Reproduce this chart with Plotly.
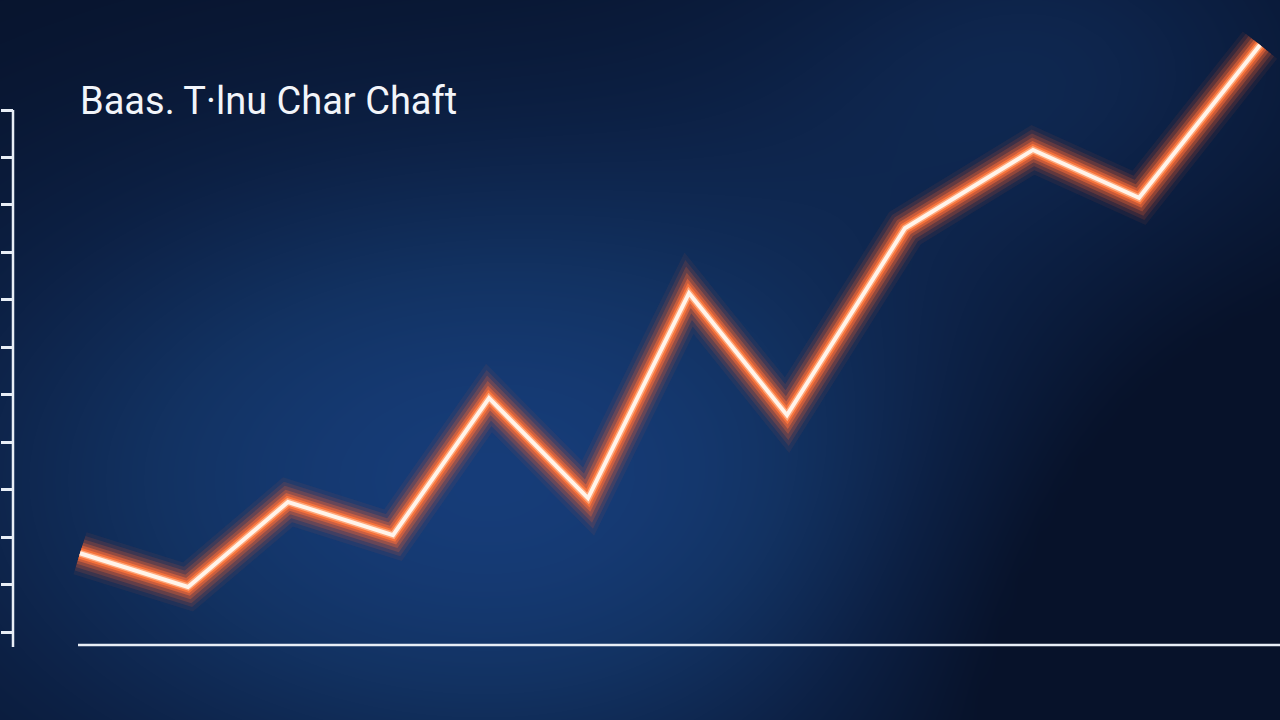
import numpy as np
import plotly.graph_objects as go

# ---- data ----
x_vals = [0.0, 1.08, 2.08, 3.13, 4.09, 5.08, 6.09, 7.07, 8.25, 9.53, 10.59, 11.80]
y_vals = [1.66, 0.95, 2.74, 2.04, 4.93, 2.82, 7.14, 4.57, 8.51, 10.16, 9.15, 12.37]
tick_vals = list(range(12))
title_text = "Baas. T\u00b7lnu Char Chaft"

W, H = 1280, 720

fig = go.Figure()

# ---- background gradient (styling only), on the first subplot so it sits underneath ----
gx = np.linspace(0, W, 65)
gy = np.linspace(0, H, 37)
GX, GY = np.meshgrid(gx, gy)
glow = np.exp(-(((GX - 500) / 560) ** 2 + ((GY - 480) / 340) ** 2))
glow2 = 0.4 * np.exp(-(((GX - 1050) / 300) ** 2 + ((GY - 60) / 200) ** 2))
dark_br = np.exp(-(((GX - 1250) / 360) ** 2 + ((GY - 620) / 280) ** 2))
z = np.clip(glow + glow2 - 0.6 * dark_br, 0, 1.2)
fig.add_trace(go.Heatmap(
    x=gx, y=gy, z=z, xaxis="x", yaxis="y", zsmooth="best",
    colorscale=[[0, "#07122a"], [0.35, "#0c2044"], [0.7, "#123262"], [1, "#163c78"]],
    showscale=False, hoverinfo="skip",
))

# ---- glowing line ----
glow_layers = [
    (44, "rgba(255,95,40,0.07)"),
    (36, "rgba(255,95,40,0.13)"),
    (29, "rgba(255,100,45,0.2)"),
    (22, "rgba(255,105,50,0.3)"),
    (16, "rgba(255,110,55,0.5)"),
    (11, "rgba(255,120,60,0.8)"),
    (7, "rgba(255,170,125,0.95)"),
    (4, "#fff4ea"),
]
for w, c in glow_layers:
    fig.add_trace(go.Scatter(
        x=x_vals, y=y_vals, mode="lines", xaxis="x2", yaxis="y2",
        line=dict(color=c, width=w, shape="linear"),
        hoverinfo="skip", showlegend=False,
    ))

# ---- layout ----
x_unit = 100.0
x_range = [(0 - 80) / x_unit, (W - 80) / x_unit]

tick0_px, tick_step = 632, 47.45
y_range = [(tick0_px - H) / tick_step, (tick0_px - 0) / tick_step]

axis_color = "#e8eef6"
fig.update_layout(
    width=W, height=H,
    margin=dict(l=0, r=0, t=0, b=0),
    paper_bgcolor="#0b1a33",
    plot_bgcolor="rgba(0,0,0,0)",
    showlegend=False,
    xaxis=dict(domain=[0, 1], range=[0, W], visible=False),
    yaxis=dict(domain=[0, 1], range=[H, 0], visible=False),
    xaxis2=dict(
        domain=[0, 1], range=x_range, anchor="y2",
        showgrid=False, zeroline=False, showticklabels=False, ticks="",
        showline=False,
    ),
    yaxis2=dict(
        domain=[0, 1], range=y_range,
        anchor="free", position=13 / W,
        showgrid=False, zeroline=False, showticklabels=False,
        tickmode="array", tickvals=tick_vals, ticks="outside",
        ticklen=12, tickwidth=2.5, tickcolor=axis_color,
        showline=False,
    ),
    shapes=[
        dict(type="line", xref="paper", yref="paper",
             x0=13 / W, x1=13 / W, y0=(H - 647) / H, y1=(H - 110) / H,
             line=dict(color=axis_color, width=2.5)),
        dict(type="line", xref="paper", yref="paper",
             x0=78 / W, x1=1, y0=(H - 645) / H, y1=(H - 645) / H,
             line=dict(color=axis_color, width=2.5)),
    ],
    annotations=[
        dict(text=title_text, xref="paper", yref="paper",
             x=78 / W, y=(H - 101) / H, xanchor="left", yanchor="middle",
             showarrow=False,
             font=dict(family="Roboto, Liberation Sans, sans-serif", size=38, color="#f2f5fa")),
    ],
)

fig.write_html(
    "out.html",
    config={"displayModeBar": False},
    post_script="document.body.style.margin='0';document.body.style.overflow='hidden';",
)
